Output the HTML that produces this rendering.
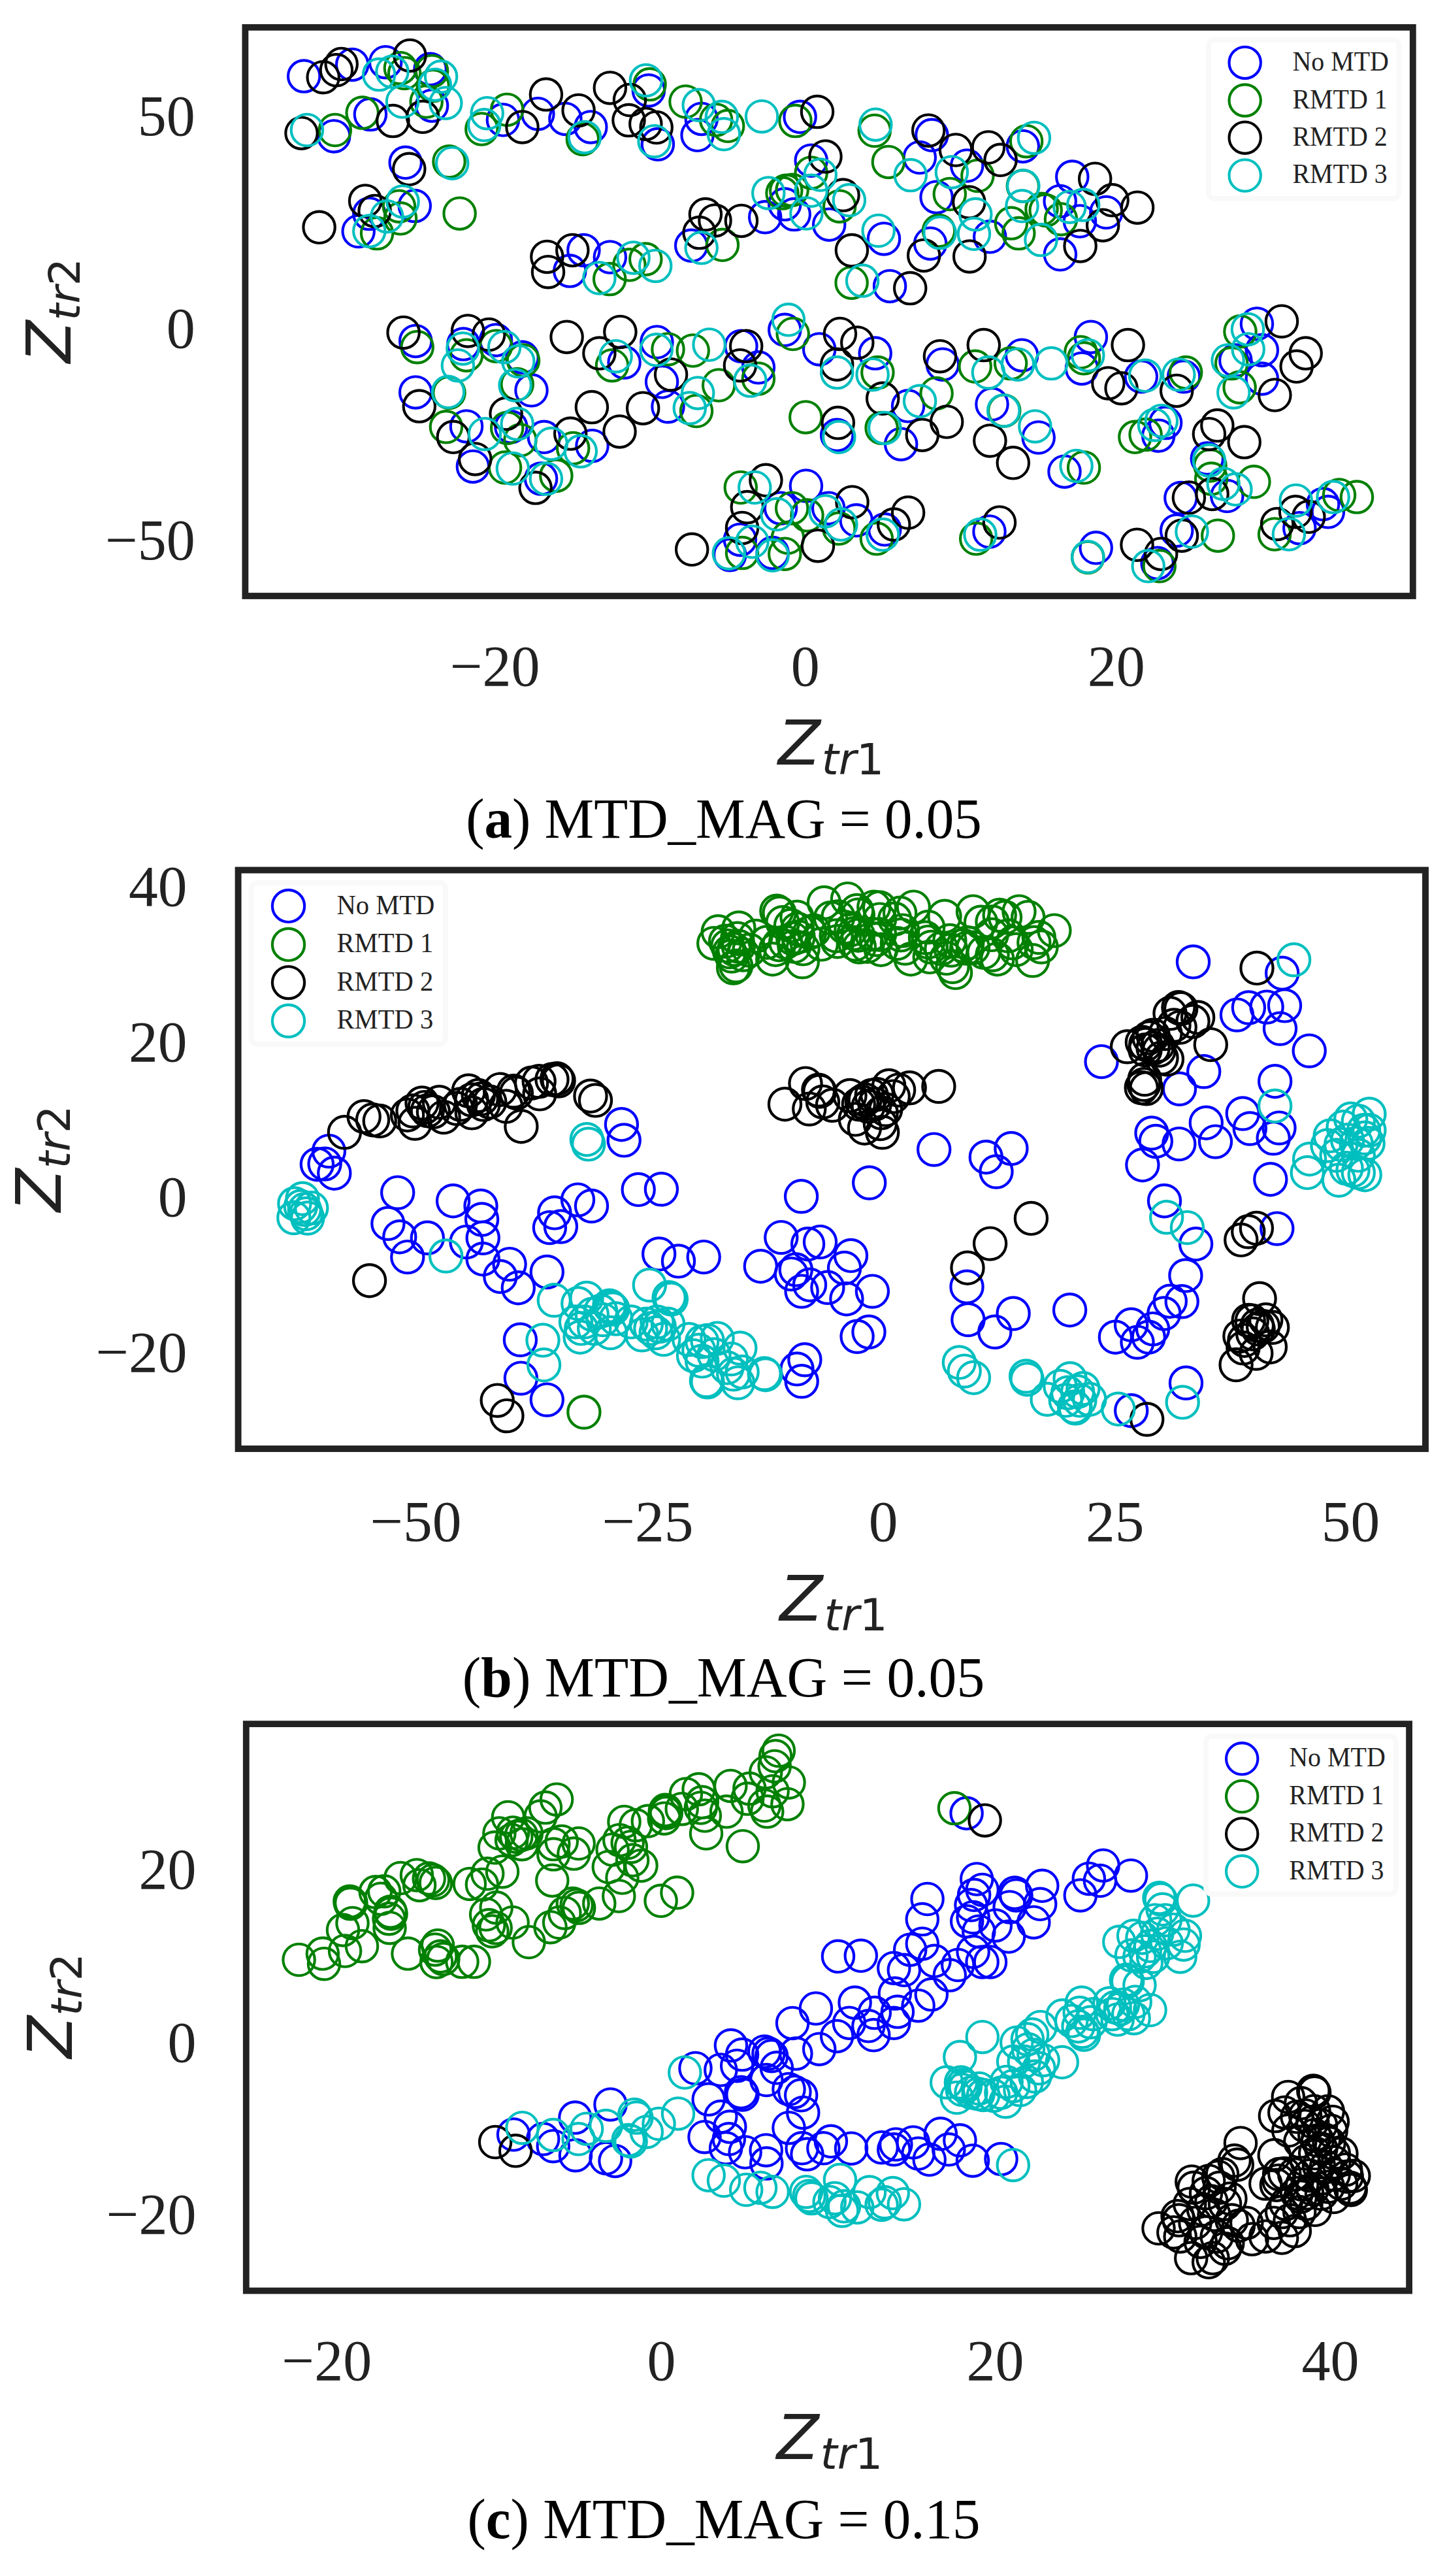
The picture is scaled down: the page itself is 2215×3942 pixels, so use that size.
<!DOCTYPE html>
<html><head><meta charset="utf-8"><title>t-SNE MTD figure</title>
<style>
html,body{margin:0;padding:0;background:#fff}
svg{display:block}
.tk{font-family:"Liberation Serif",serif;fill:#222}
.ax{font-family:"DejaVu Sans",sans-serif;fill:#222}
.cap{font-family:"Liberation Serif",serif;fill:#000}
</style></head><body>
<svg width="2215" height="3942" viewBox="0 0 2215 3942">
<rect width="2215" height="3942" fill="#fff"/>
<!-- plot a -->
<g fill="none" stroke-width="4.1"><g stroke="#0000ff">
<circle cx="465.2" cy="116.6" r="24.2"/>
<circle cx="539.2" cy="98.9" r="24.2"/>
<circle cx="590.2" cy="95.2" r="24.2"/>
<circle cx="658.6" cy="105.8" r="24.2"/>
<circle cx="511.2" cy="208.4" r="24.2"/>
<circle cx="566.9" cy="175.1" r="24.2"/>
<circle cx="661.1" cy="161.7" r="24.2"/>
<circle cx="769.9" cy="183.5" r="24.2"/>
<circle cx="620.7" cy="248.8" r="24.2"/>
<circle cx="823.4" cy="174.2" r="24.2"/>
<circle cx="865.4" cy="181.9" r="24.2"/>
<circle cx="904.3" cy="194.4" r="24.2"/>
<circle cx="992.9" cy="138.4" r="24.2"/>
<circle cx="1006.9" cy="220.8" r="24.2"/>
<circle cx="1073.8" cy="181.9" r="24.2"/>
<circle cx="1067.6" cy="206.8" r="24.2"/>
<circle cx="1224.6" cy="178.8" r="24.2"/>
<circle cx="1241.7" cy="245.7" r="24.2"/>
<circle cx="1426.4" cy="206.8" r="24.2"/>
<circle cx="1407.8" cy="241.0" r="24.2"/>
<circle cx="1480.2" cy="253.5" r="24.2"/>
<circle cx="1565.8" cy="223.9" r="24.2"/>
<circle cx="1641.3" cy="270.6" r="24.2"/>
<circle cx="1433.6" cy="301.7" r="24.2"/>
<circle cx="1622.7" cy="307.9" r="24.2"/>
<circle cx="565.3" cy="327.1" r="24.2"/>
<circle cx="548.7" cy="354.0" r="24.2"/>
<circle cx="634.8" cy="315.1" r="24.2"/>
<circle cx="1058.2" cy="375.8" r="24.2"/>
<circle cx="1171.2" cy="332.3" r="24.2"/>
<circle cx="1201.2" cy="312.6" r="24.2"/>
<circle cx="1215.7" cy="328.1" r="24.2"/>
<circle cx="1269.2" cy="343.7" r="24.2"/>
<circle cx="1353.0" cy="365.4" r="24.2"/>
<circle cx="1424.1" cy="372.7" r="24.2"/>
<circle cx="1515.3" cy="362.3" r="24.2"/>
<circle cx="1693.4" cy="325.0" r="24.2"/>
<circle cx="1653.0" cy="338.5" r="24.2"/>
<circle cx="1622.9" cy="389.3" r="24.2"/>
<circle cx="636.2" cy="521.9" r="24.2"/>
<circle cx="709.3" cy="526.6" r="24.2"/>
<circle cx="759.1" cy="520.4" r="24.2"/>
<circle cx="799.5" cy="546.8" r="24.2"/>
<circle cx="893.4" cy="382.9" r="24.2"/>
<circle cx="933.8" cy="393.5" r="24.2"/>
<circle cx="872.3" cy="414.6" r="24.2"/>
<circle cx="1005.4" cy="523.5" r="24.2"/>
<circle cx="955.6" cy="554.6" r="24.2"/>
<circle cx="1134.4" cy="529.7" r="24.2"/>
<circle cx="1160.9" cy="562.3" r="24.2"/>
<circle cx="1201.3" cy="504.8" r="24.2"/>
<circle cx="1254.2" cy="534.4" r="24.2"/>
<circle cx="1362.1" cy="437.9" r="24.2"/>
<circle cx="1669.9" cy="515.7" r="24.2"/>
<circle cx="1564.2" cy="543.7" r="24.2"/>
<circle cx="1339.7" cy="540.6" r="24.2"/>
<circle cx="1442.9" cy="557.7" r="24.2"/>
<circle cx="1656.0" cy="563.9" r="24.2"/>
<circle cx="1924.0" cy="495.5" r="24.2"/>
<circle cx="1931.8" cy="535.9" r="24.2"/>
<circle cx="1891.4" cy="551.5" r="24.2"/>
<circle cx="1931.8" cy="579.4" r="24.2"/>
<circle cx="1746.8" cy="576.3" r="24.2"/>
<circle cx="1812.1" cy="576.3" r="24.2"/>
<circle cx="636.2" cy="600.4" r="24.2"/>
<circle cx="714.0" cy="652.4" r="24.2"/>
<circle cx="723.9" cy="713.9" r="24.2"/>
<circle cx="782.4" cy="653.3" r="24.2"/>
<circle cx="813.5" cy="597.3" r="24.2"/>
<circle cx="832.8" cy="668.8" r="24.2"/>
<circle cx="906.5" cy="682.2" r="24.2"/>
<circle cx="1013.1" cy="584.3" r="24.2"/>
<circle cx="1022.5" cy="622.2" r="24.2"/>
<circle cx="1233.9" cy="743.5" r="24.2"/>
<circle cx="1195.1" cy="777.7" r="24.2"/>
<circle cx="1268.2" cy="777.7" r="24.2"/>
<circle cx="1132.9" cy="825.9" r="24.2"/>
<circle cx="1117.3" cy="849.2" r="24.2"/>
<circle cx="1182.6" cy="846.1" r="24.2"/>
<circle cx="828.1" cy="732.6" r="24.2"/>
<circle cx="1390.1" cy="621.3" r="24.2"/>
<circle cx="1379.2" cy="679.7" r="24.2"/>
<circle cx="1281.2" cy="665.7" r="24.2"/>
<circle cx="1518.5" cy="618.5" r="24.2"/>
<circle cx="1589.7" cy="669.5" r="24.2"/>
<circle cx="1629.5" cy="721.7" r="24.2"/>
<circle cx="1310.8" cy="796.3" r="24.2"/>
<circle cx="1354.3" cy="810.3" r="24.2"/>
<circle cx="1514.5" cy="813.5" r="24.2"/>
<circle cx="1677.7" cy="838.3" r="24.2"/>
<circle cx="1784.1" cy="647.1" r="24.2"/>
<circle cx="1773.2" cy="666.7" r="24.2"/>
<circle cx="1847.8" cy="701.5" r="24.2"/>
<circle cx="1807.4" cy="762.1" r="24.2"/>
<circle cx="1878.3" cy="759.0" r="24.2"/>
<circle cx="1801.2" cy="811.9" r="24.2"/>
<circle cx="2025.1" cy="771.5" r="24.2"/>
<circle cx="2032.9" cy="783.3" r="24.2"/>
<circle cx="1989.3" cy="808.2" r="24.2"/>
<circle cx="1771.6" cy="861.7" r="24.2"/>
</g>
<g stroke="#008000">
<circle cx="612.9" cy="104.2" r="24.2"/>
<circle cx="619.1" cy="112.0" r="24.2"/>
<circle cx="661.1" cy="108.9" r="24.2"/>
<circle cx="662.7" cy="131.3" r="24.2"/>
<circle cx="652.7" cy="155.5" r="24.2"/>
<circle cx="512.8" cy="199.0" r="24.2"/>
<circle cx="554.7" cy="172.6" r="24.2"/>
<circle cx="776.2" cy="167.9" r="24.2"/>
<circle cx="737.3" cy="197.5" r="24.2"/>
<circle cx="687.5" cy="247.2" r="24.2"/>
<circle cx="891.9" cy="213.0" r="24.2"/>
<circle cx="994.5" cy="129.1" r="24.2"/>
<circle cx="1049.5" cy="155.5" r="24.2"/>
<circle cx="1096.2" cy="183.5" r="24.2"/>
<circle cx="1114.2" cy="192.8" r="24.2"/>
<circle cx="1217.5" cy="185.1" r="24.2"/>
<circle cx="1241.7" cy="264.4" r="24.2"/>
<circle cx="1338.8" cy="200.0" r="24.2"/>
<circle cx="1359.9" cy="247.9" r="24.2"/>
<circle cx="1571.1" cy="216.2" r="24.2"/>
<circle cx="1496.4" cy="269.0" r="24.2"/>
<circle cx="1453.8" cy="297.0" r="24.2"/>
<circle cx="1565.8" cy="284.6" r="24.2"/>
<circle cx="703.6" cy="326.7" r="24.2"/>
<circle cx="610.9" cy="315.7" r="24.2"/>
<circle cx="613.0" cy="334.3" r="24.2"/>
<circle cx="577.1" cy="357.1" r="24.2"/>
<circle cx="1105.9" cy="374.8" r="24.2"/>
<circle cx="1197.5" cy="295.6" r="24.2"/>
<circle cx="1203.3" cy="291.8" r="24.2"/>
<circle cx="1212.6" cy="290.8" r="24.2"/>
<circle cx="1285.2" cy="315.7" r="24.2"/>
<circle cx="1437.0" cy="353.0" r="24.2"/>
<circle cx="1547.9" cy="341.6" r="24.2"/>
<circle cx="1559.3" cy="357.1" r="24.2"/>
<circle cx="1594.5" cy="319.8" r="24.2"/>
<circle cx="1600.7" cy="321.9" r="24.2"/>
<circle cx="1624.0" cy="335.4" r="24.2"/>
<circle cx="638.7" cy="531.2" r="24.2"/>
<circle cx="714.0" cy="543.7" r="24.2"/>
<circle cx="759.1" cy="529.7" r="24.2"/>
<circle cx="801.0" cy="551.5" r="24.2"/>
<circle cx="988.3" cy="396.6" r="24.2"/>
<circle cx="963.4" cy="405.3" r="24.2"/>
<circle cx="933.2" cy="427.1" r="24.2"/>
<circle cx="1213.7" cy="511.0" r="24.2"/>
<circle cx="1022.5" cy="534.4" r="24.2"/>
<circle cx="1060.7" cy="536.5" r="24.2"/>
<circle cx="937.0" cy="559.2" r="24.2"/>
<circle cx="1160.9" cy="579.4" r="24.2"/>
<circle cx="1303.6" cy="432.7" r="24.2"/>
<circle cx="1654.4" cy="539.0" r="24.2"/>
<circle cx="1659.1" cy="548.3" r="24.2"/>
<circle cx="1547.1" cy="556.1" r="24.2"/>
<circle cx="1492.7" cy="560.8" r="24.2"/>
<circle cx="1343.4" cy="570.1" r="24.2"/>
<circle cx="1898.5" cy="507.3" r="24.2"/>
<circle cx="1885.2" cy="556.1" r="24.2"/>
<circle cx="1815.2" cy="570.1" r="24.2"/>
<circle cx="682.9" cy="653.3" r="24.2"/>
<circle cx="776.2" cy="654.9" r="24.2"/>
<circle cx="791.7" cy="588.0" r="24.2"/>
<circle cx="796.4" cy="673.5" r="24.2"/>
<circle cx="773.1" cy="715.5" r="24.2"/>
<circle cx="687.5" cy="601.0" r="24.2"/>
<circle cx="877.2" cy="685.9" r="24.2"/>
<circle cx="851.4" cy="727.9" r="24.2"/>
<circle cx="1100.2" cy="589.5" r="24.2"/>
<circle cx="1066.0" cy="629.0" r="24.2"/>
<circle cx="1233.3" cy="638.4" r="24.2"/>
<circle cx="1133.8" cy="746.0" r="24.2"/>
<circle cx="1212.2" cy="777.7" r="24.2"/>
<circle cx="1235.5" cy="788.6" r="24.2"/>
<circle cx="1206.0" cy="822.8" r="24.2"/>
<circle cx="1136.0" cy="846.1" r="24.2"/>
<circle cx="1201.3" cy="847.7" r="24.2"/>
<circle cx="1433.6" cy="602.0" r="24.2"/>
<circle cx="1349.6" cy="654.9" r="24.2"/>
<circle cx="1537.2" cy="628.4" r="24.2"/>
<circle cx="1659.1" cy="715.5" r="24.2"/>
<circle cx="1341.9" cy="824.3" r="24.2"/>
<circle cx="1494.2" cy="824.3" r="24.2"/>
<circle cx="1665.3" cy="852.9" r="24.2"/>
<circle cx="1284.3" cy="808.8" r="24.2"/>
<circle cx="1897.6" cy="592.7" r="24.2"/>
<circle cx="1737.4" cy="668.8" r="24.2"/>
<circle cx="1753.6" cy="665.1" r="24.2"/>
<circle cx="1852.5" cy="712.4" r="24.2"/>
<circle cx="1854.1" cy="732.6" r="24.2"/>
<circle cx="1919.4" cy="737.3" r="24.2"/>
<circle cx="2050.0" cy="757.5" r="24.2"/>
<circle cx="2077.0" cy="760.6" r="24.2"/>
<circle cx="1864.3" cy="819.7" r="24.2"/>
<circle cx="1951.1" cy="817.5" r="24.2"/>
<circle cx="1774.8" cy="866.3" r="24.2"/>
</g>
<g stroke="#000000">
<circle cx="494.7" cy="118.2" r="24.2"/>
<circle cx="522.7" cy="98.0" r="24.2"/>
<circle cx="514.9" cy="107.3" r="24.2"/>
<circle cx="627.5" cy="84.9" r="24.2"/>
<circle cx="461.5" cy="203.7" r="24.2"/>
<circle cx="601.4" cy="185.1" r="24.2"/>
<circle cx="647.1" cy="178.8" r="24.2"/>
<circle cx="799.5" cy="194.4" r="24.2"/>
<circle cx="626.3" cy="258.8" r="24.2"/>
<circle cx="835.9" cy="144.6" r="24.2"/>
<circle cx="885.6" cy="168.9" r="24.2"/>
<circle cx="933.8" cy="134.4" r="24.2"/>
<circle cx="964.0" cy="153.0" r="24.2"/>
<circle cx="962.5" cy="184.1" r="24.2"/>
<circle cx="988.3" cy="189.7" r="24.2"/>
<circle cx="1004.7" cy="195.0" r="24.2"/>
<circle cx="1251.0" cy="171.1" r="24.2"/>
<circle cx="1263.5" cy="239.5" r="24.2"/>
<circle cx="1421.2" cy="199.7" r="24.2"/>
<circle cx="1463.1" cy="229.5" r="24.2"/>
<circle cx="1512.9" cy="225.5" r="24.2"/>
<circle cx="1531.6" cy="244.8" r="24.2"/>
<circle cx="1676.2" cy="273.7" r="24.2"/>
<circle cx="1290.5" cy="298.6" r="24.2"/>
<circle cx="1483.4" cy="309.4" r="24.2"/>
<circle cx="1702.6" cy="306.3" r="24.2"/>
<circle cx="559.1" cy="307.4" r="24.2"/>
<circle cx="573.6" cy="322.9" r="24.2"/>
<circle cx="488.6" cy="347.8" r="24.2"/>
<circle cx="1079.9" cy="328.1" r="24.2"/>
<circle cx="1094.5" cy="337.4" r="24.2"/>
<circle cx="1070.6" cy="356.1" r="24.2"/>
<circle cx="1134.9" cy="337.9" r="24.2"/>
<circle cx="1303.9" cy="383.1" r="24.2"/>
<circle cx="1414.2" cy="390.9" r="24.2"/>
<circle cx="1484.2" cy="392.4" r="24.2"/>
<circle cx="1741.1" cy="317.7" r="24.2"/>
<circle cx="1688.2" cy="344.7" r="24.2"/>
<circle cx="1653.6" cy="376.4" r="24.2"/>
<circle cx="617.6" cy="508.9" r="24.2"/>
<circle cx="716.1" cy="506.4" r="24.2"/>
<circle cx="748.2" cy="512.0" r="24.2"/>
<circle cx="837.4" cy="392.9" r="24.2"/>
<circle cx="839.0" cy="416.2" r="24.2"/>
<circle cx="876.3" cy="382.9" r="24.2"/>
<circle cx="867.6" cy="515.7" r="24.2"/>
<circle cx="949.4" cy="507.9" r="24.2"/>
<circle cx="917.4" cy="540.6" r="24.2"/>
<circle cx="1142.2" cy="529.7" r="24.2"/>
<circle cx="1132.9" cy="559.2" r="24.2"/>
<circle cx="1027.1" cy="573.2" r="24.2"/>
<circle cx="1393.2" cy="441.1" r="24.2"/>
<circle cx="1285.9" cy="511.0" r="24.2"/>
<circle cx="1312.3" cy="524.4" r="24.2"/>
<circle cx="1438.9" cy="545.2" r="24.2"/>
<circle cx="1505.8" cy="528.1" r="24.2"/>
<circle cx="1281.2" cy="557.7" r="24.2"/>
<circle cx="1726.6" cy="528.1" r="24.2"/>
<circle cx="1962.0" cy="491.7" r="24.2"/>
<circle cx="1998.7" cy="540.6" r="24.2"/>
<circle cx="1984.7" cy="560.8" r="24.2"/>
<circle cx="641.8" cy="621.6" r="24.2"/>
<circle cx="693.8" cy="668.8" r="24.2"/>
<circle cx="727.3" cy="702.4" r="24.2"/>
<circle cx="774.6" cy="633.1" r="24.2"/>
<circle cx="819.7" cy="746.6" r="24.2"/>
<circle cx="905.9" cy="623.1" r="24.2"/>
<circle cx="873.2" cy="663.6" r="24.2"/>
<circle cx="948.5" cy="660.4" r="24.2"/>
<circle cx="984.2" cy="624.7" r="24.2"/>
<circle cx="1172.4" cy="734.8" r="24.2"/>
<circle cx="1143.8" cy="776.1" r="24.2"/>
<circle cx="1136.0" cy="807.9" r="24.2"/>
<circle cx="1059.2" cy="840.8" r="24.2"/>
<circle cx="1252.0" cy="835.2" r="24.2"/>
<circle cx="1351.2" cy="609.8" r="24.2"/>
<circle cx="1282.8" cy="647.1" r="24.2"/>
<circle cx="1411.8" cy="665.7" r="24.2"/>
<circle cx="1449.2" cy="645.5" r="24.2"/>
<circle cx="1515.4" cy="674.4" r="24.2"/>
<circle cx="1550.8" cy="708.3" r="24.2"/>
<circle cx="1696.4" cy="586.4" r="24.2"/>
<circle cx="1716.6" cy="594.2" r="24.2"/>
<circle cx="1304.5" cy="768.4" r="24.2"/>
<circle cx="1390.1" cy="784.5" r="24.2"/>
<circle cx="1368.3" cy="802.6" r="24.2"/>
<circle cx="1530.0" cy="799.5" r="24.2"/>
<circle cx="1801.2" cy="597.9" r="24.2"/>
<circle cx="1951.4" cy="604.5" r="24.2"/>
<circle cx="1863.4" cy="651.1" r="24.2"/>
<circle cx="1850.9" cy="664.2" r="24.2"/>
<circle cx="1904.7" cy="676.6" r="24.2"/>
<circle cx="1819.9" cy="761.5" r="24.2"/>
<circle cx="1855.6" cy="755.9" r="24.2"/>
<circle cx="1955.1" cy="801.9" r="24.2"/>
<circle cx="1983.1" cy="783.3" r="24.2"/>
<circle cx="2003.3" cy="790.8" r="24.2"/>
<circle cx="1809.0" cy="819.7" r="24.2"/>
<circle cx="1740.5" cy="833.7" r="24.2"/>
<circle cx="1777.2" cy="847.7" r="24.2"/>
</g>
<g stroke="#00bfbf">
<circle cx="580.2" cy="114.1" r="24.2"/>
<circle cx="600.5" cy="109.8" r="24.2"/>
<circle cx="675.1" cy="117.3" r="24.2"/>
<circle cx="665.8" cy="129.7" r="24.2"/>
<circle cx="616.0" cy="155.5" r="24.2"/>
<circle cx="682.3" cy="157.7" r="24.2"/>
<circle cx="469.9" cy="199.0" r="24.2"/>
<circle cx="745.7" cy="173.2" r="24.2"/>
<circle cx="741.3" cy="191.3" r="24.2"/>
<circle cx="692.2" cy="249.7" r="24.2"/>
<circle cx="895.0" cy="209.9" r="24.2"/>
<circle cx="988.9" cy="122.9" r="24.2"/>
<circle cx="1069.7" cy="160.8" r="24.2"/>
<circle cx="1104.9" cy="178.8" r="24.2"/>
<circle cx="1108.0" cy="205.3" r="24.2"/>
<circle cx="1001.6" cy="216.2" r="24.2"/>
<circle cx="1166.1" cy="178.2" r="24.2"/>
<circle cx="1255.7" cy="267.5" r="24.2"/>
<circle cx="1340.3" cy="190.7" r="24.2"/>
<circle cx="1582.9" cy="210.9" r="24.2"/>
<circle cx="1393.8" cy="268.1" r="24.2"/>
<circle cx="1456.9" cy="263.4" r="24.2"/>
<circle cx="1566.4" cy="284.6" r="24.2"/>
<circle cx="1299.9" cy="306.3" r="24.2"/>
<circle cx="616.5" cy="308.4" r="24.2"/>
<circle cx="592.3" cy="331.2" r="24.2"/>
<circle cx="565.3" cy="353.6" r="24.2"/>
<circle cx="1073.7" cy="379.3" r="24.2"/>
<circle cx="1176.3" cy="295.4" r="24.2"/>
<circle cx="1241.7" cy="291.8" r="24.2"/>
<circle cx="1234.4" cy="326.5" r="24.2"/>
<circle cx="1344.7" cy="353.0" r="24.2"/>
<circle cx="1438.6" cy="356.1" r="24.2"/>
<circle cx="1493.3" cy="328.1" r="24.2"/>
<circle cx="1490.9" cy="357.8" r="24.2"/>
<circle cx="1564.5" cy="315.3" r="24.2"/>
<circle cx="1593.5" cy="367.1" r="24.2"/>
<circle cx="1658.2" cy="313.6" r="24.2"/>
<circle cx="1637.4" cy="316.7" r="24.2"/>
<circle cx="708.4" cy="533.4" r="24.2"/>
<circle cx="700.9" cy="559.2" r="24.2"/>
<circle cx="772.1" cy="531.2" r="24.2"/>
<circle cx="793.3" cy="553.0" r="24.2"/>
<circle cx="969.6" cy="394.4" r="24.2"/>
<circle cx="1003.2" cy="406.9" r="24.2"/>
<circle cx="917.4" cy="425.5" r="24.2"/>
<circle cx="1206.9" cy="489.3" r="24.2"/>
<circle cx="1085.6" cy="527.5" r="24.2"/>
<circle cx="1004.7" cy="535.3" r="24.2"/>
<circle cx="942.6" cy="545.2" r="24.2"/>
<circle cx="1148.4" cy="582.6" r="24.2"/>
<circle cx="1320.1" cy="429.6" r="24.2"/>
<circle cx="1558.0" cy="557.7" r="24.2"/>
<circle cx="1609.3" cy="556.1" r="24.2"/>
<circle cx="1665.3" cy="543.7" r="24.2"/>
<circle cx="1512.9" cy="570.1" r="24.2"/>
<circle cx="1335.6" cy="573.2" r="24.2"/>
<circle cx="1281.2" cy="570.1" r="24.2"/>
<circle cx="1910.0" cy="503.9" r="24.2"/>
<circle cx="1910.7" cy="534.4" r="24.2"/>
<circle cx="1879.6" cy="551.5" r="24.2"/>
<circle cx="1753.0" cy="574.8" r="24.2"/>
<circle cx="1804.3" cy="573.2" r="24.2"/>
<circle cx="686.0" cy="599.8" r="24.2"/>
<circle cx="742.0" cy="664.2" r="24.2"/>
<circle cx="788.6" cy="589.5" r="24.2"/>
<circle cx="791.7" cy="648.6" r="24.2"/>
<circle cx="784.9" cy="717.0" r="24.2"/>
<circle cx="843.7" cy="679.1" r="24.2"/>
<circle cx="888.8" cy="690.6" r="24.2"/>
<circle cx="835.9" cy="732.6" r="24.2"/>
<circle cx="1068.2" cy="601.4" r="24.2"/>
<circle cx="1055.8" cy="624.4" r="24.2"/>
<circle cx="1155.3" cy="746.0" r="24.2"/>
<circle cx="1189.5" cy="787.0" r="24.2"/>
<circle cx="1151.5" cy="829.0" r="24.2"/>
<circle cx="1115.8" cy="846.7" r="24.2"/>
<circle cx="1182.6" cy="849.8" r="24.2"/>
<circle cx="1263.5" cy="782.4" r="24.2"/>
<circle cx="1408.1" cy="613.8" r="24.2"/>
<circle cx="1354.3" cy="654.9" r="24.2"/>
<circle cx="1284.3" cy="668.8" r="24.2"/>
<circle cx="1536.2" cy="628.4" r="24.2"/>
<circle cx="1584.4" cy="652.4" r="24.2"/>
<circle cx="1647.6" cy="713.0" r="24.2"/>
<circle cx="1351.2" cy="818.1" r="24.2"/>
<circle cx="1500.5" cy="818.1" r="24.2"/>
<circle cx="1665.3" cy="852.3" r="24.2"/>
<circle cx="1287.4" cy="802.6" r="24.2"/>
<circle cx="1888.3" cy="600.4" r="24.2"/>
<circle cx="1777.9" cy="644.0" r="24.2"/>
<circle cx="1767.0" cy="650.2" r="24.2"/>
<circle cx="1850.9" cy="704.6" r="24.2"/>
<circle cx="1872.7" cy="740.4" r="24.2"/>
<circle cx="1891.4" cy="748.8" r="24.2"/>
<circle cx="1983.7" cy="765.9" r="24.2"/>
<circle cx="2040.6" cy="760.6" r="24.2"/>
<circle cx="1824.5" cy="813.5" r="24.2"/>
<circle cx="1972.9" cy="817.5" r="24.2"/>
<circle cx="1757.7" cy="866.3" r="24.2"/>
</g></g>
<rect x="1850.0" y="60.9" width="291.3" height="243.0" rx="9" fill="#fff" stroke="#f9f9f9" stroke-width="8"/>
<circle cx="1905.7" cy="95.9" r="24.2" fill="none" stroke="#0000ff" stroke-width="4.1"/>
<text transform="translate(1978.5,108.1) scale(0.962,1)" font-size="41.5" class="tk">No MTD</text>
<circle cx="1905.7" cy="153.6" r="24.2" fill="none" stroke="#008000" stroke-width="4.1"/>
<text transform="translate(1978.5,165.7) scale(0.962,1)" font-size="41.5" class="tk">RMTD 1</text>
<circle cx="1905.7" cy="210.7" r="24.2" fill="none" stroke="#000000" stroke-width="4.1"/>
<text transform="translate(1978.5,222.8) scale(0.962,1)" font-size="41.5" class="tk">RMTD 2</text>
<circle cx="1905.7" cy="268.5" r="24.2" fill="none" stroke="#00bfbf" stroke-width="4.1"/>
<text transform="translate(1978.5,280.1) scale(0.962,1)" font-size="41.5" class="tk">RMTD 3</text>
<rect x="375.4" y="41.9" width="1787.4" height="870.1" fill="none" stroke="#222" stroke-width="9.8"/>
<text transform="translate(298.8,206.5) scale(1.000,1)" font-size="88.0" text-anchor="end" class="tk">50</text>
<text transform="translate(298.8,531.6) scale(1.000,1)" font-size="88.0" text-anchor="end" class="tk">0</text>
<text transform="translate(298.8,856.2) scale(1.000,1)" font-size="88.0" text-anchor="end" class="tk">−50</text>
<text transform="translate(757.7,1049.3) scale(1.000,1)" font-size="88.0" text-anchor="middle" class="tk">−20</text>
<text transform="translate(1232.8,1049.3) scale(1.000,1)" font-size="88.0" text-anchor="middle" class="tk">0</text>
<text transform="translate(1708.7,1049.3) scale(1.000,1)" font-size="88.0" text-anchor="middle" class="tk">20</text>
<text x="1190.9" y="1170.2" font-size="94.7" class="ax"><tspan font-style="italic">Z</tspan><tspan font-size="66.3" dy="14.5" dx="2.0"><tspan font-style="italic">tr</tspan>1</tspan></text>
<text transform="translate(107.7,555.3) rotate(-90)" font-size="94.7" class="ax"><tspan font-style="italic">Z</tspan><tspan font-size="66.3" dy="14.5" dx="0.0"><tspan font-style="italic">tr</tspan>2</tspan></text>
<text transform="translate(1108.0,1282.0) scale(0.971,1)" font-size="87.6" text-anchor="middle" class="cap" xml:space="preserve">(<tspan font-weight="bold">a</tspan>) MTD_MAG = 0.05</text>
<!-- plot b -->
<g fill="none" stroke-width="4.2"><g stroke="#0000ff">
<circle cx="1826.5" cy="1471.9" r="24.6"/>
<circle cx="1962.7" cy="1489.2" r="24.6"/>
<circle cx="1893.5" cy="1553.1" r="24.6"/>
<circle cx="1911.4" cy="1542.0" r="24.6"/>
<circle cx="1939.1" cy="1541.1" r="24.6"/>
<circle cx="1966.5" cy="1538.9" r="24.6"/>
<circle cx="1959.5" cy="1574.1" r="24.6"/>
<circle cx="2004.2" cy="1608.1" r="24.6"/>
<circle cx="1686.1" cy="1624.6" r="24.6"/>
<circle cx="1842.7" cy="1639.8" r="24.6"/>
<circle cx="503.4" cy="1761.6" r="24.6"/>
<circle cx="485.4" cy="1781.7" r="24.6"/>
<circle cx="497.1" cy="1781.1" r="24.6"/>
<circle cx="511.8" cy="1795.2" r="24.6"/>
<circle cx="608.7" cy="1825.1" r="24.6"/>
<circle cx="593.9" cy="1872.3" r="24.6"/>
<circle cx="611.8" cy="1892.7" r="24.6"/>
<circle cx="654.3" cy="1894.3" r="24.6"/>
<circle cx="693.6" cy="1837.7" r="24.6"/>
<circle cx="736.0" cy="1845.5" r="24.6"/>
<circle cx="737.6" cy="1866.0" r="24.6"/>
<circle cx="714.0" cy="1900.6" r="24.6"/>
<circle cx="739.2" cy="1894.3" r="24.6"/>
<circle cx="951.4" cy="1720.7" r="24.6"/>
<circle cx="955.2" cy="1744.9" r="24.6"/>
<circle cx="977.2" cy="1820.4" r="24.6"/>
<circle cx="1012.4" cy="1819.8" r="24.6"/>
<circle cx="884.5" cy="1836.1" r="24.6"/>
<circle cx="905.5" cy="1845.5" r="24.6"/>
<circle cx="848.9" cy="1855.9" r="24.6"/>
<circle cx="841.4" cy="1878.6" r="24.6"/>
<circle cx="858.4" cy="1877.0" r="24.6"/>
<circle cx="1226.6" cy="1830.8" r="24.6"/>
<circle cx="1195.8" cy="1893.6" r="24.6"/>
<circle cx="1236.6" cy="1903.7" r="24.6"/>
<circle cx="1255.5" cy="1900.6" r="24.6"/>
<circle cx="1429.7" cy="1759.1" r="24.6"/>
<circle cx="1330.7" cy="1810.0" r="24.6"/>
<circle cx="1509.3" cy="1770.7" r="24.6"/>
<circle cx="1547.9" cy="1757.5" r="24.6"/>
<circle cx="1525.0" cy="1793.0" r="24.6"/>
<circle cx="1805.5" cy="1666.3" r="24.6"/>
<circle cx="1951.7" cy="1654.7" r="24.6"/>
<circle cx="1902.3" cy="1704.0" r="24.6"/>
<circle cx="1913.3" cy="1727.0" r="24.6"/>
<circle cx="1846.3" cy="1718.2" r="24.6"/>
<circle cx="1860.5" cy="1747.1" r="24.6"/>
<circle cx="1763.0" cy="1733.9" r="24.6"/>
<circle cx="1769.3" cy="1746.5" r="24.6"/>
<circle cx="1804.8" cy="1750.6" r="24.6"/>
<circle cx="1748.9" cy="1782.7" r="24.6"/>
<circle cx="1958.0" cy="1726.1" r="24.6"/>
<circle cx="1949.2" cy="1741.8" r="24.6"/>
<circle cx="1944.8" cy="1804.7" r="24.6"/>
<circle cx="1782.5" cy="1837.7" r="24.6"/>
<circle cx="1954.8" cy="1880.1" r="24.6"/>
<circle cx="1830.6" cy="1903.7" r="24.6"/>
<circle cx="623.8" cy="1923.6" r="24.6"/>
<circle cx="739.2" cy="1926.7" r="24.6"/>
<circle cx="780.1" cy="1934.6" r="24.6"/>
<circle cx="765.9" cy="1953.4" r="24.6"/>
<circle cx="793.3" cy="1970.7" r="24.6"/>
<circle cx="796.4" cy="2050.3" r="24.6"/>
<circle cx="797.4" cy="2109.1" r="24.6"/>
<circle cx="837.3" cy="1946.5" r="24.6"/>
<circle cx="1008.7" cy="1918.9" r="24.6"/>
<circle cx="1038.5" cy="1929.9" r="24.6"/>
<circle cx="1077.2" cy="1923.6" r="24.6"/>
<circle cx="1164.3" cy="1937.7" r="24.6"/>
<circle cx="1231.9" cy="2080.8" r="24.6"/>
<circle cx="1220.0" cy="2094.9" r="24.6"/>
<circle cx="1227.2" cy="2113.8" r="24.6"/>
<circle cx="837.3" cy="2142.1" r="24.6"/>
<circle cx="1302.5" cy="1921.4" r="24.6"/>
<circle cx="1292.6" cy="1940.4" r="24.6"/>
<circle cx="1211.3" cy="1949.6" r="24.6"/>
<circle cx="1218.3" cy="1942.9" r="24.6"/>
<circle cx="1239.5" cy="1966.2" r="24.6"/>
<circle cx="1227.1" cy="1976.1" r="24.6"/>
<circle cx="1266.9" cy="1970.3" r="24.6"/>
<circle cx="1295.9" cy="1987.7" r="24.6"/>
<circle cx="1335.4" cy="1976.1" r="24.6"/>
<circle cx="1330.0" cy="2038.3" r="24.6"/>
<circle cx="1312.1" cy="2045.3" r="24.6"/>
<circle cx="1480.0" cy="1969.2" r="24.6"/>
<circle cx="1481.9" cy="2019.5" r="24.6"/>
<circle cx="1522.8" cy="2038.3" r="24.6"/>
<circle cx="1551.1" cy="2010.0" r="24.6"/>
<circle cx="1637.6" cy="2004.7" r="24.6"/>
<circle cx="1707.4" cy="2046.2" r="24.6"/>
<circle cx="1731.7" cy="2158.7" r="24.6"/>
<circle cx="1814.9" cy="1951.9" r="24.6"/>
<circle cx="1809.2" cy="1991.8" r="24.6"/>
<circle cx="1791.3" cy="1991.2" r="24.6"/>
<circle cx="1781.9" cy="2010.0" r="24.6"/>
<circle cx="1764.6" cy="2033.6" r="24.6"/>
<circle cx="1758.3" cy="2046.2" r="24.6"/>
<circle cx="1741.0" cy="2054.1" r="24.6"/>
<circle cx="1731.6" cy="2027.3" r="24.6"/>
<circle cx="1815.5" cy="2116.3" r="24.6"/>
</g>
<g stroke="#008000">
<circle cx="1092.7" cy="1443.6" r="24.6"/>
<circle cx="1122.6" cy="1481.0" r="24.6"/>
<circle cx="1126.7" cy="1478.1" r="24.6"/>
<circle cx="1130.9" cy="1420.0" r="24.6"/>
<circle cx="1188.9" cy="1394.3" r="24.6"/>
<circle cx="1193.1" cy="1397.2" r="24.6"/>
<circle cx="1220.0" cy="1403.4" r="24.6"/>
<circle cx="1261.5" cy="1381.4" r="24.6"/>
<circle cx="1297.5" cy="1375.6" r="24.6"/>
<circle cx="1346.5" cy="1388.9" r="24.6"/>
<circle cx="1398.3" cy="1388.1" r="24.6"/>
<circle cx="1446.0" cy="1402.2" r="24.6"/>
<circle cx="1489.5" cy="1395.1" r="24.6"/>
<circle cx="1560.0" cy="1395.1" r="24.6"/>
<circle cx="1613.9" cy="1424.1" r="24.6"/>
<circle cx="1462.6" cy="1488.4" r="24.6"/>
<circle cx="1580.7" cy="1469.8" r="24.6"/>
<circle cx="1394.2" cy="1467.7" r="24.6"/>
<circle cx="1228.3" cy="1471.8" r="24.6"/>
<circle cx="1182.7" cy="1467.7" r="24.6"/>
<circle cx="1348.5" cy="1453.2" r="24.6"/>
<circle cx="1315.4" cy="1449.0" r="24.6"/>
<circle cx="1373.4" cy="1443.6" r="24.6"/>
<circle cx="1282.2" cy="1440.7" r="24.6"/>
<circle cx="1257.3" cy="1444.9" r="24.6"/>
<circle cx="1377.6" cy="1397.2" r="24.6"/>
<circle cx="1381.7" cy="1424.1" r="24.6"/>
<circle cx="1506.1" cy="1457.3" r="24.6"/>
<circle cx="1526.8" cy="1467.7" r="24.6"/>
<circle cx="1423.2" cy="1464.4" r="24.6"/>
<circle cx="1128.8" cy="1436.2" r="24.6"/>
<circle cx="1120.1" cy="1463.1" r="24.6"/>
<circle cx="1123.8" cy="1452.8" r="24.6"/>
<circle cx="1137.5" cy="1461.1" r="24.6"/>
<circle cx="1110.5" cy="1440.3" r="24.6"/>
<circle cx="1099.3" cy="1425.8" r="24.6"/>
<circle cx="1113.9" cy="1447.4" r="24.6"/>
<circle cx="1116.8" cy="1456.5" r="24.6"/>
<circle cx="1130.4" cy="1448.2" r="24.6"/>
<circle cx="1147.0" cy="1454.0" r="24.6"/>
<circle cx="1157.0" cy="1432.4" r="24.6"/>
<circle cx="1174.0" cy="1442.0" r="24.6"/>
<circle cx="1187.2" cy="1453.2" r="24.6"/>
<circle cx="1192.6" cy="1445.7" r="24.6"/>
<circle cx="1198.0" cy="1411.7" r="24.6"/>
<circle cx="1210.5" cy="1416.3" r="24.6"/>
<circle cx="1245.7" cy="1424.1" r="24.6"/>
<circle cx="1213.8" cy="1436.6" r="24.6"/>
<circle cx="1220.8" cy="1421.7" r="24.6"/>
<circle cx="1222.1" cy="1433.7" r="24.6"/>
<circle cx="1229.1" cy="1451.9" r="24.6"/>
<circle cx="1215.9" cy="1448.2" r="24.6"/>
<circle cx="1239.5" cy="1427.1" r="24.6"/>
<circle cx="1202.6" cy="1442.0" r="24.6"/>
<circle cx="1313.3" cy="1400.1" r="24.6"/>
<circle cx="1271.4" cy="1404.7" r="24.6"/>
<circle cx="1327.8" cy="1448.2" r="24.6"/>
<circle cx="1341.5" cy="1437.8" r="24.6"/>
<circle cx="1334.4" cy="1429.5" r="24.6"/>
<circle cx="1313.7" cy="1431.2" r="24.6"/>
<circle cx="1369.7" cy="1406.3" r="24.6"/>
<circle cx="1337.8" cy="1388.1" r="24.6"/>
<circle cx="1311.6" cy="1393.5" r="24.6"/>
<circle cx="1302.9" cy="1422.5" r="24.6"/>
<circle cx="1346.5" cy="1430.0" r="24.6"/>
<circle cx="1309.2" cy="1444.9" r="24.6"/>
<circle cx="1280.1" cy="1432.0" r="24.6"/>
<circle cx="1346.5" cy="1407.1" r="24.6"/>
<circle cx="1307.1" cy="1428.7" r="24.6"/>
<circle cx="1292.6" cy="1418.8" r="24.6"/>
<circle cx="1283.0" cy="1403.0" r="24.6"/>
<circle cx="1458.0" cy="1479.3" r="24.6"/>
<circle cx="1455.9" cy="1454.0" r="24.6"/>
<circle cx="1378.8" cy="1430.8" r="24.6"/>
<circle cx="1416.5" cy="1434.9" r="24.6"/>
<circle cx="1453.9" cy="1439.5" r="24.6"/>
<circle cx="1425.3" cy="1449.4" r="24.6"/>
<circle cx="1448.9" cy="1466.4" r="24.6"/>
<circle cx="1420.7" cy="1441.6" r="24.6"/>
<circle cx="1480.8" cy="1442.8" r="24.6"/>
<circle cx="1420.7" cy="1418.8" r="24.6"/>
<circle cx="1441.0" cy="1451.5" r="24.6"/>
<circle cx="1479.6" cy="1451.1" r="24.6"/>
<circle cx="1385.4" cy="1451.1" r="24.6"/>
<circle cx="1582.8" cy="1442.4" r="24.6"/>
<circle cx="1489.5" cy="1450.3" r="24.6"/>
<circle cx="1573.7" cy="1403.8" r="24.6"/>
<circle cx="1519.0" cy="1410.9" r="24.6"/>
<circle cx="1501.5" cy="1411.3" r="24.6"/>
<circle cx="1538.5" cy="1403.8" r="24.6"/>
<circle cx="1594.0" cy="1449.0" r="24.6"/>
<circle cx="1590.3" cy="1434.5" r="24.6"/>
<circle cx="1518.1" cy="1430.4" r="24.6"/>
<circle cx="1530.2" cy="1400.5" r="24.6"/>
<circle cx="1543.4" cy="1432.0" r="24.6"/>
<circle cx="1549.6" cy="1442.8" r="24.6"/>
<circle cx="1474.2" cy="1447.0" r="24.6"/>
<circle cx="1519.0" cy="1461.1" r="24.6"/>
<circle cx="1555.5" cy="1453.2" r="24.6"/>
<circle cx="893.9" cy="2161.0" r="24.6"/>
</g>
<g stroke="#000000">
<circle cx="1924.0" cy="1481.4" r="24.6"/>
<circle cx="1853.3" cy="1598.6" r="24.6"/>
<circle cx="1725.6" cy="1601.8" r="24.6"/>
<circle cx="1791.0" cy="1550.8" r="24.6"/>
<circle cx="1803.9" cy="1541.7" r="24.6"/>
<circle cx="1807.7" cy="1543.5" r="24.6"/>
<circle cx="1833.6" cy="1556.9" r="24.6"/>
<circle cx="1826.0" cy="1563.0" r="24.6"/>
<circle cx="1806.2" cy="1572.1" r="24.6"/>
<circle cx="1765.1" cy="1584.3" r="24.6"/>
<circle cx="1748.4" cy="1594.9" r="24.6"/>
<circle cx="1753.7" cy="1598.3" r="24.6"/>
<circle cx="1765.1" cy="1604.0" r="24.6"/>
<circle cx="1774.3" cy="1607.1" r="24.6"/>
<circle cx="1786.4" cy="1620.8" r="24.6"/>
<circle cx="527.4" cy="1732.8" r="24.6"/>
<circle cx="557.2" cy="1708.7" r="24.6"/>
<circle cx="570.5" cy="1713.7" r="24.6"/>
<circle cx="581.3" cy="1715.4" r="24.6"/>
<circle cx="623.6" cy="1706.2" r="24.6"/>
<circle cx="635.2" cy="1719.0" r="24.6"/>
<circle cx="646.0" cy="1688.0" r="24.6"/>
<circle cx="650.1" cy="1694.6" r="24.6"/>
<circle cx="654.3" cy="1699.6" r="24.6"/>
<circle cx="672.5" cy="1686.7" r="24.6"/>
<circle cx="663.4" cy="1701.3" r="24.6"/>
<circle cx="679.1" cy="1709.6" r="24.6"/>
<circle cx="699.0" cy="1696.3" r="24.6"/>
<circle cx="717.3" cy="1669.3" r="24.6"/>
<circle cx="732.2" cy="1676.4" r="24.6"/>
<circle cx="737.2" cy="1681.4" r="24.6"/>
<circle cx="722.3" cy="1702.9" r="24.6"/>
<circle cx="749.8" cy="1686.3" r="24.6"/>
<circle cx="765.5" cy="1667.3" r="24.6"/>
<circle cx="774.6" cy="1693.0" r="24.6"/>
<circle cx="786.2" cy="1669.8" r="24.6"/>
<circle cx="790.4" cy="1672.7" r="24.6"/>
<circle cx="813.6" cy="1657.3" r="24.6"/>
<circle cx="825.2" cy="1654.8" r="24.6"/>
<circle cx="826.1" cy="1673.9" r="24.6"/>
<circle cx="852.6" cy="1650.7" r="24.6"/>
<circle cx="855.1" cy="1654.0" r="24.6"/>
<circle cx="797.9" cy="1723.7" r="24.6"/>
<circle cx="904.0" cy="1677.2" r="24.6"/>
<circle cx="911.5" cy="1683.9" r="24.6"/>
<circle cx="1201.5" cy="1689.7" r="24.6"/>
<circle cx="1233.0" cy="1658.1" r="24.6"/>
<circle cx="1252.9" cy="1668.1" r="24.6"/>
<circle cx="1254.9" cy="1670.1" r="24.6"/>
<circle cx="1238.8" cy="1697.1" r="24.6"/>
<circle cx="1259.5" cy="1686.3" r="24.6"/>
<circle cx="1274.4" cy="1691.3" r="24.6"/>
<circle cx="1301.0" cy="1676.4" r="24.6"/>
<circle cx="1309.3" cy="1712.9" r="24.6"/>
<circle cx="1314.3" cy="1689.7" r="24.6"/>
<circle cx="1319.2" cy="1686.3" r="24.6"/>
<circle cx="1324.2" cy="1683.0" r="24.6"/>
<circle cx="1329.2" cy="1693.0" r="24.6"/>
<circle cx="1334.2" cy="1676.4" r="24.6"/>
<circle cx="1342.5" cy="1674.7" r="24.6"/>
<circle cx="1323.4" cy="1726.2" r="24.6"/>
<circle cx="1350.7" cy="1732.8" r="24.6"/>
<circle cx="1347.4" cy="1719.5" r="24.6"/>
<circle cx="1349.1" cy="1702.9" r="24.6"/>
<circle cx="1355.7" cy="1698.0" r="24.6"/>
<circle cx="1360.7" cy="1661.5" r="24.6"/>
<circle cx="1375.6" cy="1668.1" r="24.6"/>
<circle cx="1392.2" cy="1664.8" r="24.6"/>
<circle cx="1339.1" cy="1689.7" r="24.6"/>
<circle cx="1367.3" cy="1678.1" r="24.6"/>
<circle cx="1436.9" cy="1662.5" r="24.6"/>
<circle cx="1578.4" cy="1864.4" r="24.6"/>
<circle cx="1515.6" cy="1903.1" r="24.6"/>
<circle cx="1923.4" cy="1879.5" r="24.6"/>
<circle cx="1910.8" cy="1884.8" r="24.6"/>
<circle cx="1899.8" cy="1897.4" r="24.6"/>
<circle cx="1752.2" cy="1651.5" r="24.6"/>
<circle cx="1747.2" cy="1664.5" r="24.6"/>
<circle cx="1754.7" cy="1665.8" r="24.6"/>
<circle cx="1751.0" cy="1659.6" r="24.6"/>
<circle cx="565.6" cy="1959.7" r="24.6"/>
<circle cx="761.2" cy="2143.1" r="24.6"/>
<circle cx="776.0" cy="2166.6" r="24.6"/>
<circle cx="1481.0" cy="1940.2" r="24.6"/>
<circle cx="1755.7" cy="2172.0" r="24.6"/>
<circle cx="1928.1" cy="1987.3" r="24.6"/>
<circle cx="1892.1" cy="2088.5" r="24.6"/>
<circle cx="1911.2" cy="2020.5" r="24.6"/>
<circle cx="1937.7" cy="2019.7" r="24.6"/>
<circle cx="1947.7" cy="2031.3" r="24.6"/>
<circle cx="1897.9" cy="2044.6" r="24.6"/>
<circle cx="1904.9" cy="2051.2" r="24.6"/>
<circle cx="1924.4" cy="2028.0" r="24.6"/>
<circle cx="1926.1" cy="2033.8" r="24.6"/>
<circle cx="1933.6" cy="2029.6" r="24.6"/>
<circle cx="1902.9" cy="2062.8" r="24.6"/>
<circle cx="1922.8" cy="2071.1" r="24.6"/>
<circle cx="1944.4" cy="2061.2" r="24.6"/>
<circle cx="1917.8" cy="2041.2" r="24.6"/>
<circle cx="1916.2" cy="2021.3" r="24.6"/>
<circle cx="632.0" cy="1700.0" r="24.6"/>
<circle cx="705.0" cy="1690.0" r="24.6"/>
<circle cx="722.0" cy="1683.0" r="24.6"/>
<circle cx="740.0" cy="1690.0" r="24.6"/>
<circle cx="845.0" cy="1652.0" r="24.6"/>
<circle cx="1759.0" cy="1588.0" r="24.6"/>
<circle cx="1772.0" cy="1600.0" r="24.6"/>
<circle cx="1784.0" cy="1581.6" r="24.6"/>
<circle cx="1797.0" cy="1569.0" r="24.6"/>
<circle cx="1778.0" cy="1619.0" r="24.6"/>
<circle cx="1753.0" cy="1606.7" r="24.6"/>
</g>
<g stroke="#00bfbf">
<circle cx="1980.6" cy="1468.8" r="24.6"/>
<circle cx="450.9" cy="1841.9" r="24.6"/>
<circle cx="463.0" cy="1834.2" r="24.6"/>
<circle cx="449.8" cy="1863.5" r="24.6"/>
<circle cx="470.8" cy="1864.0" r="24.6"/>
<circle cx="476.8" cy="1848.6" r="24.6"/>
<circle cx="466.3" cy="1850.8" r="24.6"/>
<circle cx="460.3" cy="1846.3" r="24.6"/>
<circle cx="468.6" cy="1857.4" r="24.6"/>
<circle cx="898.3" cy="1743.7" r="24.6"/>
<circle cx="900.8" cy="1750.9" r="24.6"/>
<circle cx="1951.7" cy="1692.4" r="24.6"/>
<circle cx="1785.7" cy="1862.8" r="24.6"/>
<circle cx="1817.4" cy="1878.6" r="24.6"/>
<circle cx="2004.6" cy="1773.7" r="24.6"/>
<circle cx="2001.3" cy="1794.4" r="24.6"/>
<circle cx="2095.9" cy="1704.9" r="24.6"/>
<circle cx="2067.7" cy="1712.3" r="24.6"/>
<circle cx="2079.3" cy="1715.6" r="24.6"/>
<circle cx="2056.1" cy="1724.8" r="24.6"/>
<circle cx="2036.2" cy="1738.0" r="24.6"/>
<circle cx="2032.0" cy="1753.0" r="24.6"/>
<circle cx="2094.2" cy="1749.6" r="24.6"/>
<circle cx="2049.4" cy="1806.0" r="24.6"/>
<circle cx="2089.2" cy="1797.7" r="24.6"/>
<circle cx="2095.9" cy="1729.7" r="24.6"/>
<circle cx="2087.6" cy="1729.7" r="24.6"/>
<circle cx="2089.2" cy="1741.3" r="24.6"/>
<circle cx="2071.0" cy="1791.1" r="24.6"/>
<circle cx="2079.3" cy="1794.4" r="24.6"/>
<circle cx="2046.1" cy="1767.9" r="24.6"/>
<circle cx="2079.3" cy="1767.9" r="24.6"/>
<circle cx="2062.7" cy="1744.7" r="24.6"/>
<circle cx="2052.7" cy="1751.3" r="24.6"/>
<circle cx="2061.0" cy="1787.8" r="24.6"/>
<circle cx="2076.0" cy="1749.6" r="24.6"/>
<circle cx="682.6" cy="1922.0" r="24.6"/>
<circle cx="831.0" cy="2050.9" r="24.6"/>
<circle cx="832.6" cy="2088.7" r="24.6"/>
<circle cx="884.8" cy="1994.7" r="24.6"/>
<circle cx="898.1" cy="1986.4" r="24.6"/>
<circle cx="932.9" cy="1998.1" r="24.6"/>
<circle cx="935.4" cy="2000.5" r="24.6"/>
<circle cx="937.9" cy="2003.0" r="24.6"/>
<circle cx="906.3" cy="2011.3" r="24.6"/>
<circle cx="894.7" cy="2022.9" r="24.6"/>
<circle cx="889.8" cy="2032.9" r="24.6"/>
<circle cx="881.5" cy="2022.9" r="24.6"/>
<circle cx="888.1" cy="2046.2" r="24.6"/>
<circle cx="909.7" cy="2032.9" r="24.6"/>
<circle cx="922.9" cy="2019.6" r="24.6"/>
<circle cx="934.5" cy="2039.5" r="24.6"/>
<circle cx="919.6" cy="2006.3" r="24.6"/>
<circle cx="942.8" cy="2018.0" r="24.6"/>
<circle cx="966.1" cy="2022.9" r="24.6"/>
<circle cx="982.6" cy="2042.8" r="24.6"/>
<circle cx="995.9" cy="2032.9" r="24.6"/>
<circle cx="1004.2" cy="2039.5" r="24.6"/>
<circle cx="1009.2" cy="2029.6" r="24.6"/>
<circle cx="1015.8" cy="2049.5" r="24.6"/>
<circle cx="1022.5" cy="2026.2" r="24.6"/>
<circle cx="1005.9" cy="2022.9" r="24.6"/>
<circle cx="989.3" cy="2026.2" r="24.6"/>
<circle cx="848.3" cy="1989.8" r="24.6"/>
<circle cx="994.3" cy="1966.5" r="24.6"/>
<circle cx="1024.1" cy="1985.6" r="24.6"/>
<circle cx="1027.4" cy="1988.1" r="24.6"/>
<circle cx="1170.1" cy="2102.0" r="24.6"/>
<circle cx="1171.8" cy="2103.7" r="24.6"/>
<circle cx="1132.8" cy="2063.0" r="24.6"/>
<circle cx="1098.0" cy="2048.1" r="24.6"/>
<circle cx="1083.0" cy="2051.4" r="24.6"/>
<circle cx="1074.7" cy="2053.1" r="24.6"/>
<circle cx="1054.8" cy="2049.8" r="24.6"/>
<circle cx="1061.5" cy="2074.6" r="24.6"/>
<circle cx="1081.4" cy="2112.8" r="24.6"/>
<circle cx="1083.0" cy="2114.8" r="24.6"/>
<circle cx="1129.5" cy="2116.1" r="24.6"/>
<circle cx="1122.8" cy="2102.8" r="24.6"/>
<circle cx="1112.9" cy="2092.9" r="24.6"/>
<circle cx="1093.0" cy="2073.0" r="24.6"/>
<circle cx="1074.7" cy="2082.9" r="24.6"/>
<circle cx="1119.5" cy="2079.6" r="24.6"/>
<circle cx="1069.8" cy="2066.3" r="24.6"/>
<circle cx="1136.1" cy="2099.5" r="24.6"/>
<circle cx="1468.4" cy="2084.9" r="24.6"/>
<circle cx="1476.2" cy="2098.1" r="24.6"/>
<circle cx="1490.4" cy="2108.2" r="24.6"/>
<circle cx="1570.6" cy="2106.0" r="24.6"/>
<circle cx="1572.2" cy="2110.7" r="24.6"/>
<circle cx="1603.1" cy="2141.3" r="24.6"/>
<circle cx="1638.0" cy="2109.8" r="24.6"/>
<circle cx="1623.0" cy="2121.4" r="24.6"/>
<circle cx="1657.9" cy="2124.7" r="24.6"/>
<circle cx="1667.8" cy="2141.3" r="24.6"/>
<circle cx="1644.6" cy="2152.9" r="24.6"/>
<circle cx="1646.2" cy="2154.9" r="24.6"/>
<circle cx="1634.6" cy="2131.3" r="24.6"/>
<circle cx="1649.6" cy="2129.7" r="24.6"/>
<circle cx="1652.9" cy="2142.9" r="24.6"/>
<circle cx="1631.3" cy="2142.9" r="24.6"/>
<circle cx="1711.8" cy="2156.2" r="24.6"/>
<circle cx="1810.2" cy="2145.9" r="24.6"/>
</g></g>
<rect x="384.7" y="1350.9" width="297.4" height="247.2" rx="9" fill="#fff" stroke="#f9f9f9" stroke-width="8"/>
<circle cx="441.5" cy="1386.4" r="24.6" fill="none" stroke="#0000ff" stroke-width="4.2"/>
<text transform="translate(515.5,1398.6) scale(0.962,1)" font-size="42.2" class="tk">No MTD</text>
<circle cx="441.5" cy="1445.4" r="24.6" fill="none" stroke="#008000" stroke-width="4.2"/>
<text transform="translate(515.5,1456.9) scale(0.962,1)" font-size="42.2" class="tk">RMTD 1</text>
<circle cx="441.5" cy="1503.6" r="24.6" fill="none" stroke="#000000" stroke-width="4.2"/>
<text transform="translate(515.5,1515.6) scale(0.962,1)" font-size="42.2" class="tk">RMTD 2</text>
<circle cx="441.5" cy="1562.3" r="24.6" fill="none" stroke="#00bfbf" stroke-width="4.2"/>
<text transform="translate(515.5,1573.9) scale(0.962,1)" font-size="42.2" class="tk">RMTD 3</text>
<rect x="364.6" y="1331.5" width="1817.4" height="885.5" fill="none" stroke="#222" stroke-width="9.9"/>
<text transform="translate(286.6,1386.2) scale(1.000,1)" font-size="89.5" text-anchor="end" class="tk">40</text>
<text transform="translate(286.6,1623.6) scale(1.000,1)" font-size="89.5" text-anchor="end" class="tk">20</text>
<text transform="translate(286.6,1861.1) scale(1.000,1)" font-size="89.5" text-anchor="end" class="tk">0</text>
<text transform="translate(286.6,2098.5) scale(1.000,1)" font-size="89.5" text-anchor="end" class="tk">−20</text>
<text transform="translate(636.4,2357.8) scale(1.000,1)" font-size="89.5" text-anchor="middle" class="tk">−50</text>
<text transform="translate(991.5,2357.8) scale(1.000,1)" font-size="89.5" text-anchor="middle" class="tk">−25</text>
<text transform="translate(1352.0,2357.8) scale(1.000,1)" font-size="89.5" text-anchor="middle" class="tk">0</text>
<text transform="translate(1706.8,2357.8) scale(1.000,1)" font-size="89.5" text-anchor="middle" class="tk">25</text>
<text transform="translate(2067.5,2357.8) scale(1.000,1)" font-size="89.5" text-anchor="middle" class="tk">50</text>
<text x="1193.6" y="2480.4" font-size="96.3" class="ax"><tspan font-style="italic">Z</tspan><tspan font-size="67.4" dy="14.7" dx="2.0"><tspan font-style="italic">tr</tspan>1</tspan></text>
<text transform="translate(92.7,1854.3) rotate(-90)" font-size="96.3" class="ax"><tspan font-style="italic">Z</tspan><tspan font-size="67.4" dy="14.7" dx="0.0"><tspan font-style="italic">tr</tspan>2</tspan></text>
<text transform="translate(1107.5,2596.0) scale(0.977,1)" font-size="87.6" text-anchor="middle" class="cap" xml:space="preserve">(<tspan font-weight="bold">b</tspan>) MTD_MAG = 0.05</text>
<!-- plot c -->
<g fill="none" stroke-width="4.1"><g stroke="#0000ff">
<circle cx="1283.0" cy="2993.8" r="24.2"/>
<circle cx="1317.8" cy="2992.8" r="24.2"/>
<circle cx="1479.6" cy="2774.8" r="24.2"/>
<circle cx="1419.6" cy="2906.0" r="24.2"/>
<circle cx="1411.8" cy="2937.1" r="24.2"/>
<circle cx="1495.2" cy="2875.5" r="24.2"/>
<circle cx="1503.6" cy="2892.0" r="24.2"/>
<circle cx="1491.1" cy="2899.8" r="24.2"/>
<circle cx="1486.5" cy="2915.3" r="24.2"/>
<circle cx="1489.6" cy="2934.0" r="24.2"/>
<circle cx="1480.2" cy="2940.2" r="24.2"/>
<circle cx="1498.3" cy="2955.7" r="24.2"/>
<circle cx="1553.3" cy="2896.6" r="24.2"/>
<circle cx="1555.5" cy="2900.4" r="24.2"/>
<circle cx="1545.6" cy="2918.4" r="24.2"/>
<circle cx="1595.3" cy="2885.8" r="24.2"/>
<circle cx="1592.2" cy="2913.8" r="24.2"/>
<circle cx="1582.3" cy="2941.7" r="24.2"/>
<circle cx="1544.0" cy="2963.5" r="24.2"/>
<circle cx="1523.8" cy="2946.4" r="24.2"/>
<circle cx="1653.8" cy="2900.4" r="24.2"/>
<circle cx="1666.8" cy="2874.9" r="24.2"/>
<circle cx="1683.9" cy="2878.0" r="24.2"/>
<circle cx="1688.6" cy="2854.7" r="24.2"/>
<circle cx="1411.8" cy="2974.4" r="24.2"/>
<circle cx="1393.2" cy="2983.7" r="24.2"/>
<circle cx="1430.5" cy="3000.8" r="24.2"/>
<circle cx="1368.3" cy="3011.7" r="24.2"/>
<circle cx="1383.8" cy="3014.8" r="24.2"/>
<circle cx="1453.8" cy="3022.6" r="24.2"/>
<circle cx="1466.3" cy="3007.0" r="24.2"/>
<circle cx="1489.6" cy="2986.8" r="24.2"/>
<circle cx="1503.6" cy="3002.4" r="24.2"/>
<circle cx="1516.0" cy="3002.4" r="24.2"/>
<circle cx="1369.9" cy="3050.6" r="24.2"/>
<circle cx="1425.8" cy="3052.1" r="24.2"/>
<circle cx="1405.6" cy="3069.2" r="24.2"/>
<circle cx="1373.9" cy="3078.6" r="24.2"/>
<circle cx="1308.6" cy="3064.6" r="24.2"/>
<circle cx="1338.8" cy="3080.1" r="24.2"/>
<circle cx="1368.3" cy="3095.7" r="24.2"/>
<circle cx="1329.4" cy="3100.3" r="24.2"/>
<circle cx="1299.9" cy="3095.7" r="24.2"/>
<circle cx="1337.2" cy="3114.3" r="24.2"/>
<circle cx="1281.2" cy="3115.9" r="24.2"/>
<circle cx="1731.2" cy="2870.2" r="24.2"/>
<circle cx="1271.9" cy="3276.8" r="24.2"/>
<circle cx="1303.0" cy="3287.7" r="24.2"/>
<circle cx="1349.6" cy="3286.2" r="24.2"/>
<circle cx="1368.3" cy="3289.3" r="24.2"/>
<circle cx="1371.4" cy="3281.5" r="24.2"/>
<circle cx="1397.8" cy="3278.4" r="24.2"/>
<circle cx="1405.6" cy="3295.5" r="24.2"/>
<circle cx="1422.7" cy="3304.8" r="24.2"/>
<circle cx="1439.8" cy="3265.3" r="24.2"/>
<circle cx="1452.3" cy="3289.3" r="24.2"/>
<circle cx="1469.4" cy="3275.3" r="24.2"/>
<circle cx="1489.0" cy="3306.4" r="24.2"/>
<circle cx="1532.5" cy="3303.9" r="24.2"/>
<circle cx="1248.9" cy="3073.5" r="24.2"/>
<circle cx="1213.1" cy="3095.9" r="24.2"/>
<circle cx="1254.2" cy="3135.7" r="24.2"/>
<circle cx="1118.9" cy="3130.1" r="24.2"/>
<circle cx="1136.0" cy="3144.1" r="24.2"/>
<circle cx="1176.4" cy="3142.6" r="24.2"/>
<circle cx="1181.1" cy="3146.3" r="24.2"/>
<circle cx="1170.2" cy="3139.5" r="24.2"/>
<circle cx="1218.4" cy="3142.6" r="24.2"/>
<circle cx="1188.9" cy="3164.3" r="24.2"/>
<circle cx="1128.2" cy="3161.2" r="24.2"/>
<circle cx="1103.3" cy="3167.5" r="24.2"/>
<circle cx="1064.5" cy="3165.0" r="24.2"/>
<circle cx="1173.3" cy="3183.0" r="24.2"/>
<circle cx="1134.4" cy="3201.7" r="24.2"/>
<circle cx="1136.6" cy="3205.4" r="24.2"/>
<circle cx="1084.7" cy="3212.6" r="24.2"/>
<circle cx="1207.5" cy="3197.0" r="24.2"/>
<circle cx="1226.2" cy="3206.3" r="24.2"/>
<circle cx="934.5" cy="3220.4" r="24.2"/>
<circle cx="880.4" cy="3240.6" r="24.2"/>
<circle cx="846.8" cy="3284.2" r="24.2"/>
<circle cx="831.2" cy="3273.3" r="24.2"/>
<circle cx="881.0" cy="3298.2" r="24.2"/>
<circle cx="927.6" cy="3302.8" r="24.2"/>
<circle cx="941.6" cy="3306.9" r="24.2"/>
<circle cx="1103.3" cy="3239.1" r="24.2"/>
<circle cx="1117.3" cy="3254.6" r="24.2"/>
<circle cx="1078.5" cy="3270.2" r="24.2"/>
<circle cx="1115.8" cy="3273.3" r="24.2"/>
<circle cx="1111.1" cy="3287.3" r="24.2"/>
<circle cx="1140.6" cy="3293.5" r="24.2"/>
<circle cx="1172.7" cy="3290.4" r="24.2"/>
<circle cx="1173.3" cy="3310.6" r="24.2"/>
<circle cx="1207.5" cy="3256.2" r="24.2"/>
<circle cx="1229.3" cy="3232.9" r="24.2"/>
<circle cx="1227.7" cy="3287.3" r="24.2"/>
<circle cx="1235.5" cy="3296.6" r="24.2"/>
<circle cx="1260.4" cy="3287.3" r="24.2"/>
<circle cx="786.1" cy="3266.5" r="24.2"/>
<circle cx="1216.4" cy="3201.2" r="24.2"/>
</g>
<g stroke="#008000">
<circle cx="613.1" cy="2874.0" r="24.2"/>
<circle cx="638.0" cy="2869.4" r="24.2"/>
<circle cx="642.1" cy="2884.9" r="24.2"/>
<circle cx="656.7" cy="2874.6" r="24.2"/>
<circle cx="662.9" cy="2877.3" r="24.2"/>
<circle cx="667.0" cy="2881.4" r="24.2"/>
<circle cx="574.8" cy="2895.3" r="24.2"/>
<circle cx="588.2" cy="2894.3" r="24.2"/>
<circle cx="583.1" cy="2905.7" r="24.2"/>
<circle cx="535.4" cy="2909.8" r="24.2"/>
<circle cx="537.4" cy="2911.9" r="24.2"/>
<circle cx="536.4" cy="2913.3" r="24.2"/>
<circle cx="539.5" cy="2943.0" r="24.2"/>
<circle cx="525.0" cy="2953.4" r="24.2"/>
<circle cx="597.6" cy="2925.4" r="24.2"/>
<circle cx="598.6" cy="2928.5" r="24.2"/>
<circle cx="595.5" cy="2936.2" r="24.2"/>
<circle cx="596.5" cy="2950.2" r="24.2"/>
<circle cx="554.0" cy="2978.2" r="24.2"/>
<circle cx="528.1" cy="2985.5" r="24.2"/>
<circle cx="493.9" cy="2989.6" r="24.2"/>
<circle cx="496.0" cy="3005.2" r="24.2"/>
<circle cx="457.6" cy="2999.0" r="24.2"/>
<circle cx="624.5" cy="2989.6" r="24.2"/>
<circle cx="670.1" cy="2977.2" r="24.2"/>
<circle cx="666.0" cy="2983.4" r="24.2"/>
<circle cx="674.3" cy="2993.8" r="24.2"/>
<circle cx="678.4" cy="2997.9" r="24.2"/>
<circle cx="668.1" cy="3002.5" r="24.2"/>
<circle cx="707.5" cy="3002.1" r="24.2"/>
<circle cx="718.9" cy="2882.9" r="24.2"/>
<circle cx="845.3" cy="2877.7" r="24.2"/>
<circle cx="769.0" cy="2864.2" r="24.2"/>
<circle cx="746.2" cy="2867.3" r="24.2"/>
<circle cx="737.9" cy="2883.9" r="24.2"/>
<circle cx="759.7" cy="2919.2" r="24.2"/>
<circle cx="744.1" cy="2929.5" r="24.2"/>
<circle cx="784.6" cy="2942.0" r="24.2"/>
<circle cx="758.7" cy="2950.2" r="24.2"/>
<circle cx="753.5" cy="2955.4" r="24.2"/>
<circle cx="748.3" cy="2946.1" r="24.2"/>
<circle cx="809.5" cy="2972.0" r="24.2"/>
<circle cx="842.6" cy="2949.2" r="24.2"/>
<circle cx="856.1" cy="2942.0" r="24.2"/>
<circle cx="864.4" cy="2927.4" r="24.2"/>
<circle cx="876.8" cy="2912.9" r="24.2"/>
<circle cx="882.6" cy="2915.4" r="24.2"/>
<circle cx="886.2" cy="2919.6" r="24.2"/>
<circle cx="917.3" cy="2912.9" r="24.2"/>
<circle cx="947.3" cy="2901.5" r="24.2"/>
<circle cx="952.5" cy="2873.5" r="24.2"/>
<circle cx="931.8" cy="2857.0" r="24.2"/>
<circle cx="981.5" cy="2854.9" r="24.2"/>
<circle cx="968.1" cy="2846.6" r="24.2"/>
<circle cx="1011.6" cy="2908.8" r="24.2"/>
<circle cx="1036.5" cy="2896.3" r="24.2"/>
<circle cx="725.5" cy="3002.1" r="24.2"/>
<circle cx="852.1" cy="2753.7" r="24.2"/>
<circle cx="834.9" cy="2766.1" r="24.2"/>
<circle cx="827.6" cy="2779.6" r="24.2"/>
<circle cx="777.9" cy="2781.0" r="24.2"/>
<circle cx="764.4" cy="2805.5" r="24.2"/>
<circle cx="785.1" cy="2804.5" r="24.2"/>
<circle cx="790.3" cy="2810.7" r="24.2"/>
<circle cx="798.0" cy="2808.0" r="24.2"/>
<circle cx="805.9" cy="2805.5" r="24.2"/>
<circle cx="757.1" cy="2827.3" r="24.2"/>
<circle cx="859.8" cy="2817.9" r="24.2"/>
<circle cx="847.3" cy="2822.1" r="24.2"/>
<circle cx="885.7" cy="2821.0" r="24.2"/>
<circle cx="847.3" cy="2837.6" r="24.2"/>
<circle cx="878.4" cy="2836.6" r="24.2"/>
<circle cx="783.1" cy="2815.9" r="24.2"/>
<circle cx="1191.9" cy="2679.0" r="24.2"/>
<circle cx="1187.1" cy="2687.3" r="24.2"/>
<circle cx="1185.7" cy="2702.9" r="24.2"/>
<circle cx="1172.2" cy="2712.2" r="24.2"/>
<circle cx="1207.5" cy="2727.7" r="24.2"/>
<circle cx="1182.6" cy="2741.2" r="24.2"/>
<circle cx="1205.4" cy="2760.9" r="24.2"/>
<circle cx="1174.3" cy="2772.3" r="24.2"/>
<circle cx="1170.1" cy="2763.0" r="24.2"/>
<circle cx="1147.3" cy="2737.1" r="24.2"/>
<circle cx="1144.2" cy="2752.6" r="24.2"/>
<circle cx="1118.3" cy="2732.9" r="24.2"/>
<circle cx="1112.1" cy="2772.3" r="24.2"/>
<circle cx="1069.6" cy="2738.1" r="24.2"/>
<circle cx="1049.9" cy="2745.4" r="24.2"/>
<circle cx="1074.8" cy="2757.8" r="24.2"/>
<circle cx="1072.7" cy="2766.5" r="24.2"/>
<circle cx="1078.9" cy="2778.5" r="24.2"/>
<circle cx="1081.0" cy="2805.5" r="24.2"/>
<circle cx="1137.0" cy="2825.2" r="24.2"/>
<circle cx="1043.7" cy="2768.2" r="24.2"/>
<circle cx="1017.7" cy="2772.3" r="24.2"/>
<circle cx="1019.8" cy="2774.4" r="24.2"/>
<circle cx="1018.8" cy="2769.8" r="24.2"/>
<circle cx="1016.7" cy="2782.7" r="24.2"/>
<circle cx="991.8" cy="2786.8" r="24.2"/>
<circle cx="973.2" cy="2793.1" r="24.2"/>
<circle cx="955.5" cy="2787.9" r="24.2"/>
<circle cx="960.7" cy="2820.0" r="24.2"/>
<circle cx="965.9" cy="2826.2" r="24.2"/>
<circle cx="948.3" cy="2815.9" r="24.2"/>
<circle cx="937.7" cy="2830.5" r="24.2"/>
<circle cx="798.8" cy="2822.2" r="24.2"/>
<circle cx="1461.0" cy="2767.1" r="24.2"/>
</g>
<g stroke="#000000">
<circle cx="1507.6" cy="2785.7" r="24.2"/>
<circle cx="758.1" cy="3278.0" r="24.2"/>
<circle cx="789.2" cy="3291.3" r="24.2"/>
<circle cx="1773.5" cy="3410.0" r="24.2"/>
<circle cx="1899.0" cy="3279.4" r="24.2"/>
<circle cx="1889.6" cy="3306.3" r="24.2"/>
<circle cx="1893.8" cy="3312.6" r="24.2"/>
<circle cx="1871.0" cy="3327.1" r="24.2"/>
<circle cx="1864.8" cy="3331.2" r="24.2"/>
<circle cx="1824.3" cy="3338.5" r="24.2"/>
<circle cx="1827.4" cy="3347.8" r="24.2"/>
<circle cx="1802.6" cy="3391.3" r="24.2"/>
<circle cx="1804.6" cy="3397.6" r="24.2"/>
<circle cx="1796.3" cy="3416.2" r="24.2"/>
<circle cx="1806.7" cy="3422.4" r="24.2"/>
<circle cx="1823.3" cy="3455.6" r="24.2"/>
<circle cx="1850.2" cy="3461.8" r="24.2"/>
<circle cx="1856.5" cy="3455.6" r="24.2"/>
<circle cx="1875.1" cy="3441.1" r="24.2"/>
<circle cx="1879.3" cy="3432.8" r="24.2"/>
<circle cx="1916.6" cy="3426.6" r="24.2"/>
<circle cx="1937.3" cy="3422.4" r="24.2"/>
<circle cx="1962.2" cy="3424.5" r="24.2"/>
<circle cx="1981.9" cy="3414.2" r="24.2"/>
<circle cx="1937.3" cy="3341.6" r="24.2"/>
<circle cx="1950.8" cy="3298.1" r="24.2"/>
<circle cx="1958.1" cy="3327.1" r="24.2"/>
<circle cx="1953.9" cy="3343.7" r="24.2"/>
<circle cx="1846.1" cy="3356.1" r="24.2"/>
<circle cx="1854.4" cy="3368.5" r="24.2"/>
<circle cx="1842.0" cy="3381.0" r="24.2"/>
<circle cx="1858.5" cy="3389.3" r="24.2"/>
<circle cx="1875.1" cy="3372.7" r="24.2"/>
<circle cx="1883.4" cy="3364.4" r="24.2"/>
<circle cx="1829.5" cy="3401.7" r="24.2"/>
<circle cx="1846.1" cy="3416.2" r="24.2"/>
<circle cx="1862.7" cy="3422.4" r="24.2"/>
<circle cx="1837.8" cy="3430.7" r="24.2"/>
<circle cx="1885.5" cy="3397.6" r="24.2"/>
<circle cx="1895.9" cy="3405.9" r="24.2"/>
<circle cx="1908.3" cy="3401.7" r="24.2"/>
<circle cx="1821.2" cy="3372.7" r="24.2"/>
<circle cx="1866.8" cy="3347.8" r="24.2"/>
<circle cx="1850.2" cy="3337.4" r="24.2"/>
<circle cx="1962.2" cy="3385.1" r="24.2"/>
<circle cx="1974.6" cy="3397.6" r="24.2"/>
<circle cx="1949.8" cy="3401.7" r="24.2"/>
<circle cx="1968.4" cy="3372.7" r="24.2"/>
<circle cx="1989.2" cy="3385.1" r="24.2"/>
<circle cx="1999.5" cy="3372.7" r="24.2"/>
<circle cx="1985.0" cy="3356.1" r="24.2"/>
<circle cx="2010.3" cy="3199.4" r="24.2"/>
<circle cx="2012.1" cy="3202.1" r="24.2"/>
<circle cx="1991.4" cy="3218.3" r="24.2"/>
<circle cx="1966.3" cy="3232.7" r="24.2"/>
<circle cx="1951.9" cy="3238.1" r="24.2"/>
<circle cx="2032.7" cy="3230.9" r="24.2"/>
<circle cx="2039.9" cy="3247.0" r="24.2"/>
<circle cx="2034.5" cy="3279.4" r="24.2"/>
<circle cx="2053.4" cy="3295.6" r="24.2"/>
<circle cx="2072.3" cy="3329.7" r="24.2"/>
<circle cx="2066.9" cy="3347.7" r="24.2"/>
<circle cx="2067.8" cy="3351.3" r="24.2"/>
<circle cx="2041.7" cy="3362.0" r="24.2"/>
<circle cx="2013.0" cy="3381.8" r="24.2"/>
<circle cx="1966.3" cy="3326.1" r="24.2"/>
<circle cx="1957.3" cy="3336.9" r="24.2"/>
<circle cx="1997.5" cy="3253.5" r="24.2"/>
<circle cx="1998.1" cy="3237.2" r="24.2"/>
<circle cx="1985.5" cy="3239.3" r="24.2"/>
<circle cx="2022.1" cy="3251.9" r="24.2"/>
<circle cx="2009.2" cy="3247.0" r="24.2"/>
<circle cx="1972.2" cy="3260.3" r="24.2"/>
<circle cx="1971.8" cy="3208.9" r="24.2"/>
<circle cx="2011.5" cy="3230.7" r="24.2"/>
<circle cx="1990.3" cy="3277.4" r="24.2"/>
<circle cx="2012.3" cy="3267.2" r="24.2"/>
<circle cx="2016.9" cy="3275.6" r="24.2"/>
<circle cx="2022.3" cy="3288.0" r="24.2"/>
<circle cx="2041.7" cy="3295.0" r="24.2"/>
<circle cx="2018.9" cy="3314.2" r="24.2"/>
<circle cx="2013.2" cy="3295.0" r="24.2"/>
<circle cx="2037.6" cy="3260.7" r="24.2"/>
<circle cx="2030.0" cy="3316.0" r="24.2"/>
<circle cx="2027.0" cy="3274.0" r="24.2"/>
<circle cx="2000.2" cy="3306.5" r="24.2"/>
<circle cx="2042.4" cy="3308.8" r="24.2"/>
<circle cx="2041.7" cy="3327.7" r="24.2"/>
<circle cx="2004.7" cy="3329.2" r="24.2"/>
<circle cx="1993.2" cy="3343.0" r="24.2"/>
<circle cx="2001.1" cy="3356.3" r="24.2"/>
<circle cx="2053.0" cy="3341.6" r="24.2"/>
<circle cx="2033.1" cy="3346.4" r="24.2"/>
<circle cx="1990.7" cy="3361.7" r="24.2"/>
<circle cx="1981.2" cy="3327.4" r="24.2"/>
<circle cx="2023.0" cy="3357.0" r="24.2"/>
<circle cx="2061.7" cy="3330.8" r="24.2"/>
<circle cx="2023.9" cy="3333.3" r="24.2"/>
<circle cx="2060.2" cy="3320.2" r="24.2"/>
<circle cx="2009.0" cy="3350.0" r="24.2"/>
</g>
<g stroke="#00bfbf">
<circle cx="1826.3" cy="2908.4" r="24.2"/>
<circle cx="1774.5" cy="2904.2" r="24.2"/>
<circle cx="1776.9" cy="2906.7" r="24.2"/>
<circle cx="1779.6" cy="2921.8" r="24.2"/>
<circle cx="1783.8" cy="2938.4" r="24.2"/>
<circle cx="1768.2" cy="2938.4" r="24.2"/>
<circle cx="1796.2" cy="2952.9" r="24.2"/>
<circle cx="1813.9" cy="2962.3" r="24.2"/>
<circle cx="1811.8" cy="2975.7" r="24.2"/>
<circle cx="1806.6" cy="2994.4" r="24.2"/>
<circle cx="1713.3" cy="2971.6" r="24.2"/>
<circle cx="1735.1" cy="2962.3" r="24.2"/>
<circle cx="1748.5" cy="2965.4" r="24.2"/>
<circle cx="1732.0" cy="2992.3" r="24.2"/>
<circle cx="1744.4" cy="2994.4" r="24.2"/>
<circle cx="1752.7" cy="2986.1" r="24.2"/>
<circle cx="1761.0" cy="2977.8" r="24.2"/>
<circle cx="1765.1" cy="2994.4" r="24.2"/>
<circle cx="1754.8" cy="3003.7" r="24.2"/>
<circle cx="1723.7" cy="3029.6" r="24.2"/>
<circle cx="1726.2" cy="3032.1" r="24.2"/>
<circle cx="1744.4" cy="3037.9" r="24.2"/>
<circle cx="1771.3" cy="2959.2" r="24.2"/>
<circle cx="1785.9" cy="2973.7" r="24.2"/>
<circle cx="1760.5" cy="3076.0" r="24.2"/>
<circle cx="1737.7" cy="3063.5" r="24.2"/>
<circle cx="1719.0" cy="3067.7" r="24.2"/>
<circle cx="1714.9" cy="3074.3" r="24.2"/>
<circle cx="1706.6" cy="3071.8" r="24.2"/>
<circle cx="1702.4" cy="3082.2" r="24.2"/>
<circle cx="1710.7" cy="3090.5" r="24.2"/>
<circle cx="1698.3" cy="3065.6" r="24.2"/>
<circle cx="1727.3" cy="3082.2" r="24.2"/>
<circle cx="1735.6" cy="3088.4" r="24.2"/>
<circle cx="1655.8" cy="3064.6" r="24.2"/>
<circle cx="1626.4" cy="3084.3" r="24.2"/>
<circle cx="1652.7" cy="3080.1" r="24.2"/>
<circle cx="1650.6" cy="3100.9" r="24.2"/>
<circle cx="1656.8" cy="3109.2" r="24.2"/>
<circle cx="1659.3" cy="3113.7" r="24.2"/>
<circle cx="1669.3" cy="3094.6" r="24.2"/>
<circle cx="1673.4" cy="3082.2" r="24.2"/>
<circle cx="1640.2" cy="3092.6" r="24.2"/>
<circle cx="1592.6" cy="3101.9" r="24.2"/>
<circle cx="1580.1" cy="3113.3" r="24.2"/>
<circle cx="1572.9" cy="3120.6" r="24.2"/>
<circle cx="1556.3" cy="3125.7" r="24.2"/>
<circle cx="1625.7" cy="3155.8" r="24.2"/>
<circle cx="1596.7" cy="3152.7" r="24.2"/>
<circle cx="1590.5" cy="3165.1" r="24.2"/>
<circle cx="1582.2" cy="3144.4" r="24.2"/>
<circle cx="1573.9" cy="3136.1" r="24.2"/>
<circle cx="1567.7" cy="3154.8" r="24.2"/>
<circle cx="1551.1" cy="3154.8" r="24.2"/>
<circle cx="1540.7" cy="3185.9" r="24.2"/>
<circle cx="1551.1" cy="3192.1" r="24.2"/>
<circle cx="1561.5" cy="3198.3" r="24.2"/>
<circle cx="1532.4" cy="3202.4" r="24.2"/>
<circle cx="1571.8" cy="3185.9" r="24.2"/>
<circle cx="1584.3" cy="3177.6" r="24.2"/>
<circle cx="1449.2" cy="3186.6" r="24.2"/>
<circle cx="1464.7" cy="3210.0" r="24.2"/>
<circle cx="1469.4" cy="3147.8" r="24.2"/>
<circle cx="1470.9" cy="3186.6" r="24.2"/>
<circle cx="1474.0" cy="3190.4" r="24.2"/>
<circle cx="1477.8" cy="3193.5" r="24.2"/>
<circle cx="1486.5" cy="3202.2" r="24.2"/>
<circle cx="1498.9" cy="3196.0" r="24.2"/>
<circle cx="1505.1" cy="3205.9" r="24.2"/>
<circle cx="1520.7" cy="3206.9" r="24.2"/>
<circle cx="1539.3" cy="3216.2" r="24.2"/>
<circle cx="1550.8" cy="3313.2" r="24.2"/>
<circle cx="1285.9" cy="3335.9" r="24.2"/>
<circle cx="1331.0" cy="3354.6" r="24.2"/>
<circle cx="1366.7" cy="3356.1" r="24.2"/>
<circle cx="1354.3" cy="3370.1" r="24.2"/>
<circle cx="1349.6" cy="3373.9" r="24.2"/>
<circle cx="1383.8" cy="3373.2" r="24.2"/>
<circle cx="1312.3" cy="3377.9" r="24.2"/>
<circle cx="1292.1" cy="3376.3" r="24.2"/>
<circle cx="1289.0" cy="3383.2" r="24.2"/>
<circle cx="1278.1" cy="3363.9" r="24.2"/>
<circle cx="1048.3" cy="3171.5" r="24.2"/>
<circle cx="846.8" cy="3267.1" r="24.2"/>
<circle cx="898.1" cy="3257.7" r="24.2"/>
<circle cx="885.6" cy="3273.3" r="24.2"/>
<circle cx="927.6" cy="3253.1" r="24.2"/>
<circle cx="971.2" cy="3236.0" r="24.2"/>
<circle cx="974.3" cy="3240.6" r="24.2"/>
<circle cx="961.8" cy="3274.9" r="24.2"/>
<circle cx="965.6" cy="3277.0" r="24.2"/>
<circle cx="989.8" cy="3262.4" r="24.2"/>
<circle cx="1008.5" cy="3250.0" r="24.2"/>
<circle cx="1038.0" cy="3234.4" r="24.2"/>
<circle cx="1084.7" cy="3328.7" r="24.2"/>
<circle cx="1108.0" cy="3337.0" r="24.2"/>
<circle cx="1142.2" cy="3351.0" r="24.2"/>
<circle cx="1164.0" cy="3347.9" r="24.2"/>
<circle cx="1182.6" cy="3354.2" r="24.2"/>
<circle cx="1233.9" cy="3354.2" r="24.2"/>
<circle cx="1238.6" cy="3360.4" r="24.2"/>
<circle cx="1242.3" cy="3364.1" r="24.2"/>
<circle cx="1269.7" cy="3369.7" r="24.2"/>
<circle cx="799.5" cy="3256.2" r="24.2"/>
<circle cx="1503.8" cy="3117.2" r="24.2"/>
<circle cx="1472.7" cy="3198.0" r="24.2"/>
<circle cx="1497.6" cy="3204.3" r="24.2"/>
</g></g>
<rect x="1846.2" y="2656.8" width="290.4" height="241.8" rx="9" fill="#fff" stroke="#f9f9f9" stroke-width="8"/>
<circle cx="1901.2" cy="2691.3" r="24.2" fill="none" stroke="#0000ff" stroke-width="4.1"/>
<text transform="translate(1973.3,2703.3) scale(0.962,1)" font-size="41.5" class="tk">No MTD</text>
<circle cx="1901.2" cy="2749.0" r="24.2" fill="none" stroke="#008000" stroke-width="4.1"/>
<text transform="translate(1973.3,2761.1) scale(0.962,1)" font-size="41.5" class="tk">RMTD 1</text>
<circle cx="1901.2" cy="2806.5" r="24.2" fill="none" stroke="#000000" stroke-width="4.1"/>
<text transform="translate(1973.3,2818.4) scale(0.962,1)" font-size="41.5" class="tk">RMTD 2</text>
<circle cx="1901.2" cy="2863.8" r="24.2" fill="none" stroke="#00bfbf" stroke-width="4.1"/>
<text transform="translate(1973.3,2876.2) scale(0.962,1)" font-size="41.5" class="tk">RMTD 3</text>
<rect x="376.8" y="2638.1" width="1780.3" height="867.4" fill="none" stroke="#222" stroke-width="9.8"/>
<text transform="translate(300.4,2890.2) scale(1.000,1)" font-size="88.0" text-anchor="end" class="tk">20</text>
<text transform="translate(300.4,3154.7) scale(1.000,1)" font-size="88.0" text-anchor="end" class="tk">0</text>
<text transform="translate(300.4,3417.7) scale(1.000,1)" font-size="88.0" text-anchor="end" class="tk">−20</text>
<text transform="translate(500.4,3642.2) scale(1.000,1)" font-size="88.0" text-anchor="middle" class="tk">−20</text>
<text transform="translate(1012.6,3642.2) scale(1.000,1)" font-size="88.0" text-anchor="middle" class="tk">0</text>
<text transform="translate(1523.4,3642.2) scale(1.000,1)" font-size="88.0" text-anchor="middle" class="tk">20</text>
<text transform="translate(2036.5,3642.2) scale(1.000,1)" font-size="88.0" text-anchor="middle" class="tk">40</text>
<text x="1188.8" y="3763.3" font-size="94.7" class="ax"><tspan font-style="italic">Z</tspan><tspan font-size="66.3" dy="14.5" dx="2.0"><tspan font-style="italic">tr</tspan>1</tspan></text>
<text transform="translate(110.2,3149.5) rotate(-90)" font-size="94.7" class="ax"><tspan font-style="italic">Z</tspan><tspan font-size="66.3" dy="14.5" dx="0.0"><tspan font-style="italic">tr</tspan>2</tspan></text>
<text transform="translate(1108.0,3884.0) scale(0.971,1)" font-size="87.6" text-anchor="middle" class="cap" xml:space="preserve">(<tspan font-weight="bold">c</tspan>) MTD_MAG = 0.15</text>
</svg>
</body></html>
